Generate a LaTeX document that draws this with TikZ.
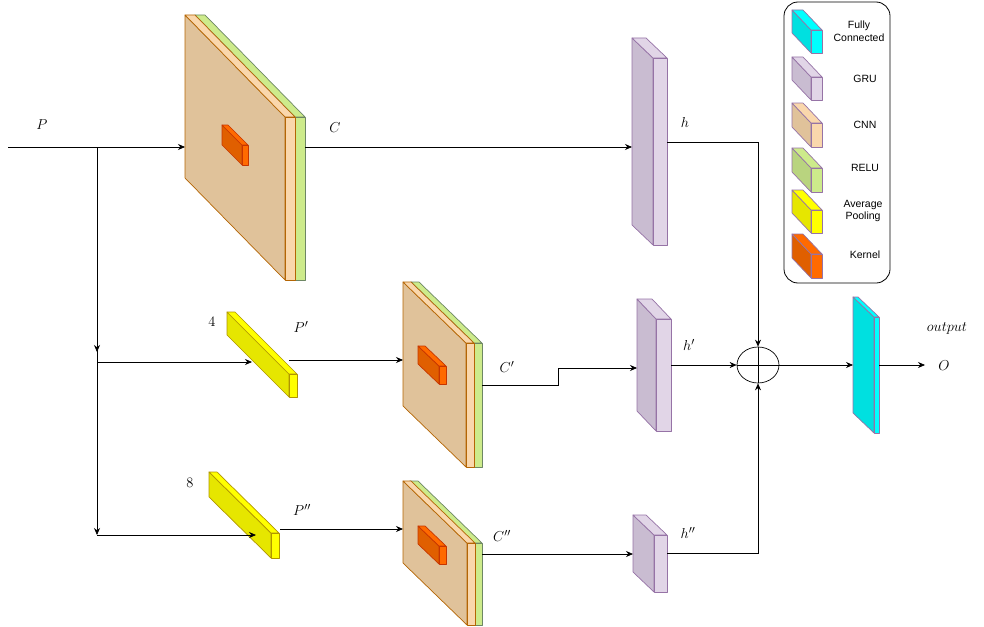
\documentclass[tikz,border=0pt]{standalone}
\usepackage{fontspec}
\newfontfamily\lab{Liberation Sans}
\usetikzlibrary{arrows.meta,shapes.geometric}
\definecolor{cnnS}{HTML}{E0C29A}\definecolor{cnnF}{HTML}{FAD7AC}\definecolor{cnnL}{HTML}{B46504}
\definecolor{reS}{HTML}{B9D47F}\definecolor{reF}{HTML}{CDEB8B}\definecolor{reL}{HTML}{6D8764}
\definecolor{ylS}{HTML}{E6E600}\definecolor{ylF}{HTML}{FFFF00}\definecolor{ylL}{HTML}{B09500}
\definecolor{knS}{HTML}{E05F00}\definecolor{knF}{HTML}{FF6A00}\definecolor{knL}{HTML}{C73500}
\definecolor{grS}{HTML}{C9BCD1}\definecolor{grF}{HTML}{E1D5E7}\definecolor{grL}{HTML}{9673A6}
\definecolor{fcS}{HTML}{00E0E0}\definecolor{fcF}{HTML}{00FFFF}
% x y W H w d side front stroke
\newcommand\cubeshape[9]{%
  \begin{scope}[draw=#9,line width=0.7pt,line join=round]
  \filldraw[fill=#7] (#1,#2) -- ({#1+#3-#5},{#2+#6}) -- ({#1+#3-#5},{#2+#4}) -- (#1,{#2+#4-#6}) -- cycle;
  \filldraw[fill=#8] (#1,#2) -- ({#1+#5},#2) -- ({#1+#3},{#2+#6}) -- ({#1+#3-#5},{#2+#6}) -- cycle;
  \filldraw[fill=#8] ({#1+#3-#5},{#2+#6}) rectangle ({#1+#3},{#2+#4});
  \end{scope}}
\tikzset{arr/.style={-{Stealth[length=7pt,width=6pt]},line width=0.7pt},
  ln/.style={line width=0.7pt},
  mlab/.style={font=\fontsize{15}{18}\selectfont},
  leg/.style={font=\lab\fontsize{10.5}{12.5}\selectfont,align=center}}
\begin{document}
\begin{tikzpicture}[x=1pt,y=-1pt]
\useasboundingbox (0,0) rectangle (984,626);
% top CNN
\cubeshape{195}{15}{110}{265}{10}{102}{reS}{reF}{reL}
\cubeshape{185}{15}{110}{265}{10}{102}{cnnS}{cnnF}{cnnL}
\cubeshape{222}{125}{26}{40}{6}{20}{knS}{knF}{knL}
% middle
\cubeshape{227}{312}{70}{85}{8}{62}{ylS}{ylF}{ylL}
\cubeshape{411}{282}{71}{185}{8}{61}{reS}{reF}{reL}
\cubeshape{403}{282}{71}{185}{8}{61}{cnnS}{cnnF}{cnnL}
\cubeshape{418}{346}{28}{38}{7}{20}{knS}{knF}{knL}
% bottom
\cubeshape{209}{472}{70}{86}{8}{61}{ylS}{ylF}{ylL}
\cubeshape{410}{481}{72}{144}{8}{62}{reS}{reF}{reL}
\cubeshape{403}{481}{72}{144}{8}{62}{cnnS}{cnnF}{cnnL}
\cubeshape{418}{526}{28}{38}{7}{20}{knS}{knF}{knL}
% GRUs
\cubeshape{632}{38}{35}{207}{14}{20}{grS}{grF}{grL}
\cubeshape{637}{299}{34}{132}{15}{20}{grS}{grF}{grL}
\cubeshape{633}{515}{34}{77}{13}{20}{grS}{grF}{grL}
% FC
\cubeshape{853}{297}{26}{136}{5}{20}{fcS}{fcF}{grL}
% legend
\draw[line width=0.8pt,rounded corners=14pt] (784,2) rectangle (890,283);
\cubeshape{792}{10}{30}{43}{11}{20}{fcS}{fcF}{grL}
\cubeshape{792}{57}{30}{43}{11}{20}{grS}{grF}{grL}
\cubeshape{792}{103}{30}{44}{11}{20}{cnnS}{cnnF}{grL}
\cubeshape{792}{148}{30}{44}{11}{20}{reS}{reF}{grL}
\cubeshape{792}{190}{30}{43}{11}{20}{ylS}{ylF}{grL}
\cubeshape{792}{234}{30}{44}{11}{20}{knS}{knF}{grL}
\node[leg] (lfc) at (859,31) {Fully\\Connected};
\node[leg] (lgru) at (865,79) {GRU};
\node[leg] (lcnn) at (865,125) {CNN};
\node[leg] (lrelu) at (865,168) {RELU};
\node[leg] (lavg) at (863,211) {Average\\Pooling};
\node[leg] (lker) at (865,255) {Kernel};
% coordinates
\coordinate (in) at (8,147); \coordinate (br) at (97,147);
\coordinate (cnnA) at (185,147); \coordinate (cnnAo) at (305,147);
\coordinate (b1) at (97,362); \coordinate (b2) at (97,535);
\coordinate (yl1) at (252,362); \coordinate (yl2) at (256,535);
\coordinate (yl1o) at (289,360); \coordinate (cnnB) at (403,360);
\coordinate (yl2o) at (280,529); \coordinate (cnnC) at (403,529);
\coordinate (gruA) at (632,147); \coordinate (gruAo) at (667,142);
\coordinate (cnnBo) at (482,385); \coordinate (gruB) at (637,368); \coordinate (gruBo) at (671,365);
\coordinate (cnnCo) at (482,554); \coordinate (gruC) at (633,554); \coordinate (gruCo) at (667,553);
\node[draw,ellipse,line width=0.7pt,minimum width=42pt,minimum height=36pt,inner sep=0pt] (sum) at (758,365) {};
\draw[ln] (sum.north) -- (sum.south) (sum.west) -- (sum.east);
\coordinate (fc) at (853,365); \coordinate (fco) at (879,365); \coordinate (out) at (925,365);
% connectors
\draw[ln] (in) -- (br); \draw[arr] (br) -- (cnnA);
\draw[arr] (br) -- (b1 |- 0,352); \draw[ln] (b1|-0,350) -- (b1); \draw[arr] (b1) -- (b2);
\draw[arr] (b1) -- (yl1); \draw[arr] (b2) -- (yl2);
\draw[arr] (yl1o) -- (cnnB); \draw[arr] (yl2o) -- (cnnC);
\draw[arr] (cnnAo) -- (gruA);
\draw[arr] (cnnBo) -- (558,385) -- (558,368) -- (gruB);
\draw[arr] (cnnCo) -- (gruC);
\draw[arr] (gruAo) -- (sum.north |- gruAo) -- (sum.north);
\draw[arr] (gruBo) -- (sum.west);
\draw[arr] (gruCo) -- (sum.south |- gruCo) -- (sum.south);
\draw[arr] (sum.east) -- (fc);
\draw[arr] (fco) -- (out);
% labels
\node[mlab] (lP) at (42,125) {$P$};
\node[mlab] (lC) at (335,128) {$C$};
\node[mlab] (lh) at (685,122) {$h$};
\node[mlab] (l4) at (212,322) {$4$};
\node[mlab] (lP1) at (301,327) {$P'$};
\node[mlab] (lC1) at (507,367) {$C'$};
\node[mlab] (lh1) at (689,345) {$h'$};
\node[mlab] (l8) at (190,483) {$8$};
\node[mlab] (lP2) at (302,510) {$P''$};
\node[mlab] (lC2) at (502,536) {$C''$};
\node[mlab] (lh2) at (688,533) {$h''$};
\node[mlab] (lout) at (947,328) {$output$};
\node[mlab] (lO) at (944,366) {$O$};
\end{tikzpicture}
\end{document}
